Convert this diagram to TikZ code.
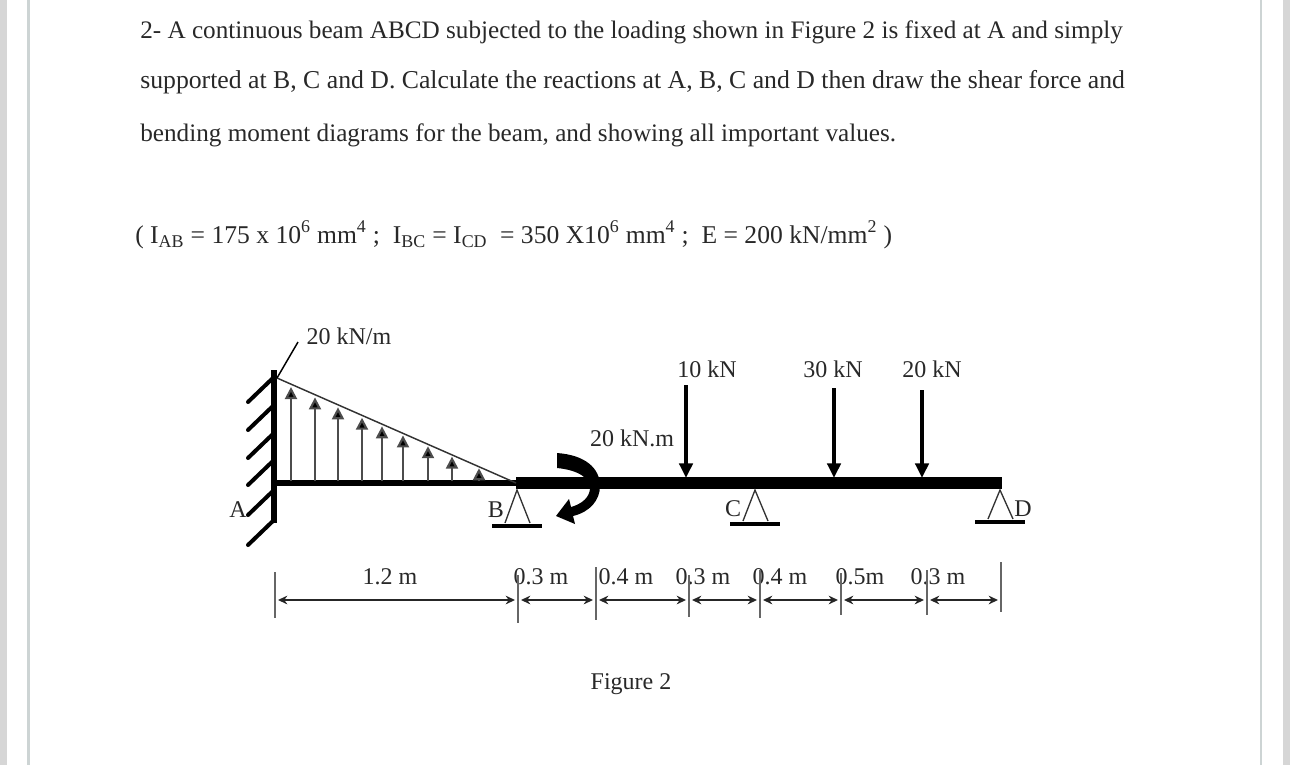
\documentclass[tikz,border=0pt]{standalone}
\usepackage{fontspec}
\setmainfont{Liberation Serif}
\usetikzlibrary{arrows.meta,
           calc,                      % coordinates between $ $
           positioning}
\definecolor{ink}{RGB}{40,40,40}
\definecolor{band}{RGB}{214,214,214}
\definecolor{rule}{RGB}{205,212,212}
\tikzset{
  txt/.style={anchor=base west,inner sep=0pt,text=ink,font=\fontsize{18.9}{20}\selectfont},
  lab/.style={anchor=base,inner sep=0pt,text=ink,font=\fontsize{18}{20}\selectfont},
  load/.style={line width=2.6pt,-{Triangle[length=11pt,width=10pt]}},
  udl/.style={line width=1.6pt,draw=black!70,-{Triangle[length=9pt,width=9pt,fill=black]}},
  dim/.style={line width=1.5pt,draw=black!85,{Stealth[length=7pt,width=6.5pt]}-{Stealth[length=7pt,width=6.5pt]}},
  tick/.style={line width=.8pt,draw=black!60},
  hatch/.style={line width=3pt,line cap=round},
  support/.style={line width=1pt,draw=black!80},
  ground/.style={line width=3pt}
}
\begin{document}
\begin{tikzpicture}[x=0.75pt,y=-0.75pt]
\useasboundingbox(0,0)rectangle(1290,765);
% page edges
\fill[band](0,0)rectangle(7,765);
\fill[band](1283,0)rectangle(1290,765);
\fill[rule](27,0)rectangle(30,765);
\fill[rule](1260,0)rectangle(1262,765);
% question
\node[txt](line1)at(140,38){2- A continuous beam ABCD subjected to the loading shown in Figure 2 is fixed at A and simply};
\node[txt,font=\fontsize{19.3}{20}\selectfont](line2)at(140,88){supported at B, C and D. Calculate the reactions at A, B, C and D then draw the shear force and};
\node[txt](line3)at(140,141){bending moment diagrams for the beam, and showing all important values.};
\node[txt,font=\fontsize{19.2}{20}\selectfont](props)at(135,243){( I\textsubscript{AB} = 175 x 10\textsuperscript{6} mm\textsuperscript{4} ;\ \ I\textsubscript{BC} = I\textsubscript{CD} \ = 350 X10\textsuperscript{6} mm\textsuperscript{4} ;\ \ E = 200 kN/mm\textsuperscript{2} )};
% beam
\coordinate(A)at(274,483);
\coordinate(B)at(516,483);
\coordinate(C)at(755,483);
\coordinate(D)at(1002,483);
\coordinate(walltop)at(274,370);
\coordinate(wallend)at(274,523);
\draw[line width=3.8pt](walltop)--(wallend);
\draw[line width=3.8pt](A)--(B);
\draw[line width=9pt](B)--(D);
\foreach \i/\ya in {1/377,2/405,3/433,4/460,5/490,6/520}{
\coordinate(hs\i)at(274,\ya);
\coordinate(he\i)at(248,\ya+25);
\draw[hatch](hs\i)--(he\i);
}
% triangular load
\coordinate(q0)at(277,378);
\draw[line width=1.1pt,draw=black!80](q0)--(B);
\foreach \xa in {291,315,338,362,382,403,428,452,479}{
\coordinate(qb\xa)at(\xa,481);
\coordinate(qt\xa)at(\xa,{381+(\xa-277)*0.432});
\draw[udl](qb\xa)--(qt\xa);
}
\coordinate(qlead)at(298,342);
\draw[line width=1.1pt](qlead)--(q0);
\node[lab](qlab)at(349,344){20 kN/m};
% supports
\foreach \n/\xa/\ya/\yg in {B/517/490/526,C/755/490/524,D/1000/490/522}{
\coordinate(ap\n)at(\xa,\ya);
\coordinate(bl\n)at(\xa-12,\yg-3);
\coordinate(br\n)at(\xa+13,\yg-3);
\coordinate(gl\n)at(\xa-25,\yg);
\coordinate(gr\n)at(\xa+25,\yg);
\draw[support](bl\n)--(ap\n)--(br\n);
\draw[ground](gl\n)--(gr\n);
}
\node[lab](labA)at(238,517){A};
\node[lab](labB)at(496,517){B};
\node[lab](labC)at(733,516){C};
\node[lab](labD)at(1023,516){D};
% moment
\fill(557,453)..controls(585,455)and(600,468)..(600,486)..controls(600,500)and(590,512)..(573,516)--(575,524)--(556,516)--(569,499)--(571,507)..controls(582,504)and(590,497)..(590,488)..controls(590,478)and(578,470)..(557,468)--cycle;
\node[lab](mlab)at(632,446){20 kN.m};
% point loads
\foreach \n/\xa/\ya/\xt/\txt in {a/686/385/707/10 kN,b/834/388/833/30 kN,c/922/390/932/20 kN}{
\coordinate(ps\n)at(\xa,\ya);
\coordinate(pe\n)at(\xa,478);
\draw[load](ps\n)--(pe\n);
\node[lab](pl\n)at(\xt,377){\txt};
}
% dimensions
\foreach \i/\xa/\ya/\yb in {0/275/572/618,1/518/575/623,2/596/567/620,3/689/575/617,4/760/570/618,5/841/573/615,6/927/570/615,7/1001/562/612}{
\coordinate(tt\i)at(\xa,\ya);
\coordinate(tb\i)at(\xa,\yb);
\coordinate(dd\i)at(\xa,600);
}
\foreach \i/\j in {0/1,1/2,2/3,3/4,4/5,5/6,6/7}{
\draw[dim]($(dd\i)+(3,0)$)--($(dd\j)+(-3,0)$);
}
\foreach \n/\xa/\txt in {d0/390/1.2 m,d1/541/0.3 m,d2/626/0.4 m,d3/703/0.3 m,d4/780/0.4 m,d5/860/0.5m,d6/938/0.3 m}{
\node[lab](\n)at(\xa,584){\txt};
}
\foreach \i in {0,...,7}{
\draw[tick](tt\i)--(tb\i);
}
\node[lab](fig)at(631,689){Figure 2};
\end{tikzpicture}
\end{document}
